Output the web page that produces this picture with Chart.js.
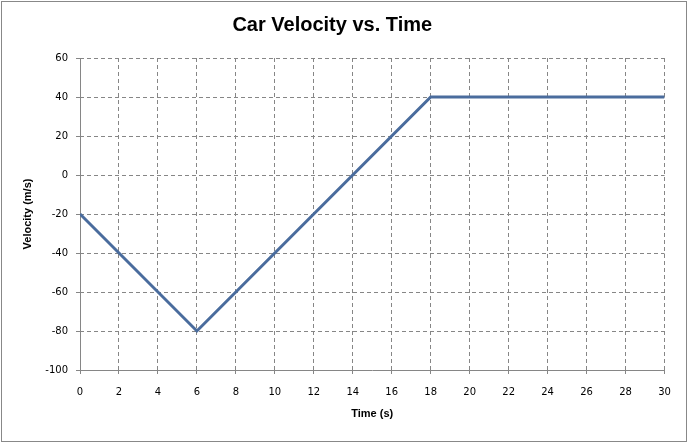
<!DOCTYPE html>
<html>
<head>
<meta charset="utf-8">
<script src="https://cdn.jsdelivr.net/npm/chart.js@4"></script>
<style>
  html, body { margin: 0; padding: 0; background: #fff; }
  #wrap { width: 688px; height: 443px; }
</style>
</head>
<body>
<div id="wrap"><canvas id="velocityChart" width="688" height="443"></canvas></div>
<script>
// Chart data
const times = [0, 6, 18, 30];
const velocities = [-20, -80, 40, 40];
const xTicks = [0, 2, 4, 6, 8, 10, 12, 14, 16, 18, 20, 22, 24, 26, 28, 30];
const yTicks = [-100, -80, -60, -40, -20, 0, 20, 40, 60];

const gridColor = '#868686';
const tickFont = { family: 'DejaVu Sans', size: 10 };

// same pixel snapping Chart.js uses for 1px lines
function snap(p) {
    return Math.round(p - 0.5) + 0.5;
}

// Outer frame around the whole chart, plus solid axis lines
const framePlugin = {
    id: 'frame',
    beforeDraw(chart) {
        const ctx = chart.ctx;
        ctx.save();
        ctx.fillStyle = '#fff';
        ctx.fillRect(0, 0, chart.width, chart.height);
        ctx.strokeStyle = '#888888';
        ctx.lineWidth = 1;
        ctx.strokeRect(1.5, 1.5, chart.width - 3, chart.height - 3);
        ctx.restore();
    },
    beforeDatasetsDraw(chart) {
        const ctx = chart.ctx;
        const x0 = snap(chart.scales.x.getPixelForValue(0));
        const y0 = snap(chart.scales.y.getPixelForValue(-100));
        const x1 = snap(chart.scales.x.getPixelForValue(30));
        const y1 = snap(chart.scales.y.getPixelForValue(60));
        ctx.save();
        ctx.strokeStyle = gridColor;
        ctx.lineWidth = 1;
        ctx.beginPath();
        ctx.moveTo(x0, y1);
        ctx.lineTo(x0, y0);
        ctx.lineTo(x1, y0);
        ctx.stroke();
        ctx.restore();
    }
};

const ctx = document.getElementById('velocityChart').getContext('2d');

new Chart(ctx, {
    type: 'line',
    data: {
        datasets: [{
            label: 'Velocity',
            data: times.map((t, i) => ({ x: t, y: velocities[i] })),
            borderColor: '#4A6C9D',
            borderWidth: 3,
            pointRadius: 0,
            tension: 0,
            fill: false
        }]
    },
    options: {
        responsive: false,
        animation: false,
        layout: {
            padding: { left: 0, right: 23.5, top: 0, bottom: 0 }
        },
        plugins: {
            legend: { display: false },
            tooltip: { enabled: false },
            title: {
                display: true,
                text: 'Car Velocity vs. Time',
                color: '#000',
                font: { family: 'Liberation Sans', size: 20, weight: 'bold' },
                padding: { top: 13, bottom: 21 }
            }
        },
        scales: {
            x: {
                type: 'linear',
                min: 0,
                max: 30,
                afterBuildTicks: (scale) => { scale.ticks = xTicks.map(v => ({ value: v })); },
                afterFit: (scale) => { scale.height = 73; },
                ticks: { color: '#000', font: tickFont, padding: 12, maxRotation: 0 },
                grid: {
                    color: gridColor,
                    tickColor: gridColor,
                    tickLength: 4,
                    tickBorderDash: [],
                    lineWidth: 1
                },
                border: { display: false, color: gridColor, dash: [4, 3] },
                title: {
                    display: true,
                    text: 'Time (s)',
                    color: '#000',
                    font: { family: 'Liberation Sans', size: 11, weight: 'bold' },
                    padding: { top: 0, bottom: 22 }
                }
            },
            y: {
                min: -100,
                max: 60,
                afterBuildTicks: (scale) => { scale.ticks = yTicks.map(v => ({ value: v })); },
                afterFit: (scale) => { scale.width = 80; },
                ticks: { color: '#000', font: tickFont, padding: 8 },
                grid: {
                    color: gridColor,
                    tickColor: gridColor,
                    tickLength: 4,
                    tickBorderDash: [],
                    lineWidth: 1
                },
                border: { display: false, color: gridColor, dash: [4, 3] },
                title: {
                    display: true,
                    text: 'Velocity (m/s)',
                    color: '#000',
                    font: { family: 'Liberation Sans', size: 11, weight: 'bold' },
                    padding: { top: 21, bottom: 0 }
                }
            }
        }
    },
    plugins: [framePlugin]
});
</script>
</body>
</html>
